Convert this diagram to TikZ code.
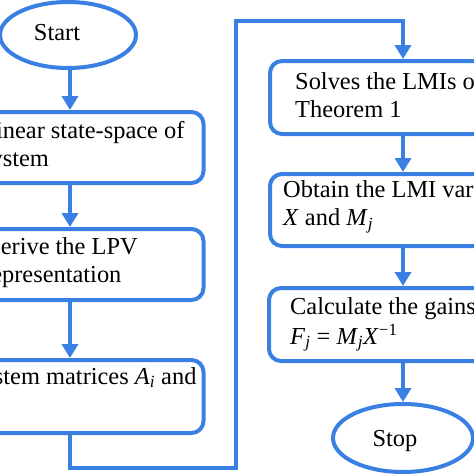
\documentclass[tikz,border=0pt]{standalone}
\usepackage{fontspec}
\setmainfont{Liberation Serif}
\usetikzlibrary{arrows.meta,shapes.geometric}
\definecolor{flow}{RGB}{58,128,226}
\begin{document}
\begin{tikzpicture}[x=1pt,y=-1pt,
  boxshape/.style={rectangle, draw=flow, line width=4pt, rounded corners=12pt, inner sep=0pt},
  term/.style={ellipse, draw=flow, line width=4pt, inner sep=0pt},
  txt/.style={anchor=north west, inner sep=0pt, align=left, font=\fontsize{24.4pt}{28.5pt}\selectfont},
  ttxt/.style={anchor=base, inner sep=0pt, font=\fontsize{24.4pt}{28.5pt}\selectfont},
  arr/.style={draw=flow, line width=4pt, -{Triangle[width=16pt,length=14pt]}}]
\fill[white] (0,0) rectangle (474,474);
\useasboundingbox (0,0) rectangle (474,474);
\clip (0,0) rectangle (474,474);
% left column
\node[term, minimum width=136pt, minimum height=66pt] (start) at (68,35) {};
\node[ttxt] (starttxt) at (57,40) {Start};
\node[boxshape, minimum width=267pt, minimum height=71pt] (b1) at (70,147.5) {};
\node[txt] (t1) at (-19,118.05) {\strut Linear state-space of\\system};
\node[boxshape, minimum width=267pt, minimum height=71pt] (b2) at (70,264.5) {};
\node[txt] (t2) at (-17,234.05) {\strut Derive the LPV\\representation};
\node[boxshape, minimum width=267pt, minimum height=73pt] (b3) at (70,396.5) {};
\node[txt] (t3) at (-32,364.05) {\strut System matrices \textit{A}\textsubscript{\textit{i}} and};
% right column
\node[boxshape, minimum width=266pt, minimum height=73pt] (b4) at (403,97.5) {};
\node[txt] (t4) at (295,69.05) {\strut Solves the LMIs of\\Theorem 1};
\node[boxshape, minimum width=266pt, minimum height=72pt] (b5) at (403,210) {};
\node[txt] (t5) at (283,177.05) {\strut Obtain the LMI variables\\\textit{X} and \textit{M}\textsubscript{\textit{j}}};
\node[boxshape, minimum width=268pt, minimum height=73pt] (b6) at (403,324.5) {};
\node[txt] (t6) at (290,294.05) {\strut Calculate the gains\\\textit{F}\textsubscript{\textit{j}} = \textit{M}\textsubscript{\textit{j}}\textit{X}\textsuperscript{−1}};
\node[term, minimum width=140pt, minimum height=68pt] (stop) at (403,438) {};
\node[ttxt] (stoptxt) at (395,446) {Stop};
% connectors
\coordinate (c1) at (236,468);
\coordinate (c2) at (236,21);
\draw[arr] (start.south -| b1.north) -- (b1.north);
\draw[arr] (b1.south) -- (b2.north);
\draw[arr] (b2.south) -- (b3.north);
\draw[arr] (b3.south) |- (c1) -- (c2) -| (b4.north);
\draw[arr] (b4.south) -- (b5.north);
\draw[arr] (b5.south) -- (b6.north);
\draw[arr] (b6.south) -- (stop.north);
\end{tikzpicture}
\end{document}
